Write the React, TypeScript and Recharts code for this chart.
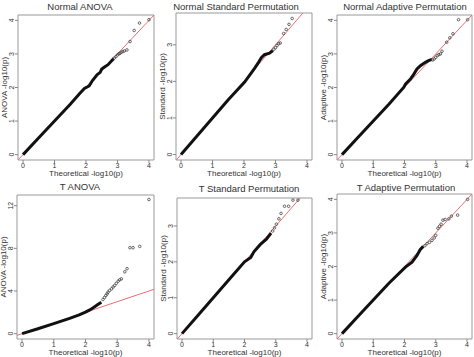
import {
  ComposedChart,
  Line,
  Scatter,
  XAxis,
  YAxis,
  ReferenceLine,
  ReferenceArea,
} from "recharts";

const normalAnovaCurve = [
  [0, 0], [0.5, 0.5], [1, 1], [1.5, 1.5], [1.8, 1.82], [1.95, 1.97], [2.05, 2.02],
  [2.1, 2.05], [2.2, 2.2], [2.35, 2.38], [2.45, 2.45], [2.5, 2.55], [2.6, 2.62],
  [2.7, 2.68], [2.8, 2.78], [2.88, 2.86],
];
const normalAnovaTail = [
  [2.9, 2.88], [2.95, 2.92], [3.0, 2.97], [3.04, 3.0], [3.08, 3.02], [3.12, 3.05],
  [3.17, 3.07], [3.22, 3.09], [3.3, 3.12], [3.4, 3.37], [3.53, 3.7], [3.7, 3.92],
  [4.0, 4.02],
];

const normalStdCurve = [
  [0, 0], [0.5, 0.5], [1, 1], [1.5, 1.5], [2.02, 1.98], [2.18, 2.17], [2.33, 2.35],
  [2.44, 2.49], [2.55, 2.65], [2.65, 2.73], [2.81, 2.77], [2.92, 2.84],
];
const normalStdTail = [
  [2.95, 2.88], [3.0, 2.92], [3.05, 2.98], [3.1, 3.03], [3.15, 3.05], [3.26, 3.31],
  [3.34, 3.42], [3.43, 3.56], [3.53, 3.72],
];

const normalAdaptCurve = [
  [0, 0], [0.5, 0.5], [1, 1], [1.5, 1.5], [1.98, 2.01], [2.03, 2.1], [2.19, 2.25],
  [2.3, 2.4], [2.4, 2.55], [2.51, 2.65], [2.67, 2.75], [2.77, 2.8], [2.88, 2.84],
];
const normalAdaptTail = [
  [2.9, 2.82], [2.95, 2.85], [3.0, 2.9], [3.05, 2.95], [3.1, 2.98], [3.15, 3.0],
  [3.2, 3.08], [3.35, 3.35], [3.45, 3.48], [3.55, 3.6], [3.73, 4.02], [4.02, 4.02],
];

const tAnovaCurve = [
  [0, 0], [0.5, 0.46], [1, 0.94], [1.5, 1.44], [1.8, 1.76], [2.0, 2.02], [2.15, 2.25],
  [2.3, 2.55], [2.4, 2.75], [2.5, 2.95],
];
const tAnovaTail = [
  [2.55, 3.2], [2.6, 3.4], [2.64, 3.57], [2.68, 3.72], [2.71, 3.89], [2.76, 4.05],
  [2.82, 4.2], [2.87, 4.38], [2.92, 4.52], [2.97, 4.72], [3.03, 4.92], [3.08, 5.05],
  [3.13, 5.14], [3.24, 5.8], [3.31, 6.09], [3.4, 8.06], [3.5, 8.06], [3.71, 8.18],
  [4.0, 12.58],
];

const tStdCurve = [
  [0, 0], [0.5, 0.5], [1, 1], [1.5, 1.5], [2, 2], [2.2, 2.12], [2.3, 2.28],
  [2.5, 2.48], [2.7, 2.63], [2.85, 2.8],
];
const tStdTail = [
  [2.9, 2.86], [2.96, 2.95], [3.02, 3.05], [3.1, 3.2], [3.17, 3.35], [3.28, 3.55],
  [3.41, 3.55], [3.55, 3.72], [3.71, 3.72],
];

const tAdaptCurve = [
  [0, 0], [0.5, 0.5], [1, 1], [1.5, 1.5], [2.03, 1.98], [2.24, 2.13], [2.4, 2.33],
  [2.5, 2.5], [2.6, 2.6],
];
const tAdaptTail = [
  [2.65, 2.62], [2.72, 2.68], [2.8, 2.72], [2.88, 2.78], [2.95, 2.85], [3.0, 2.93],
  [3.07, 3.14], [3.12, 3.2], [3.17, 3.26], [3.23, 3.38], [3.3, 3.4], [3.42, 3.42],
  [3.5, 3.5], [3.7, 3.53], [4.02, 4.0],
];

const xTicks = [0, 1, 2, 3, 4];
const yTicks3 = [0, 1, 2, 3];
const yTicks4 = [0, 1, 2, 3, 4];
const yTicks12 = [0, 2, 4, 6, 8, 10, 12];

const FONT = "'Liberation Sans', Arial, sans-serif";
const toPts = (rows: number[][]) => rows.map(([x, y]) => ({ x, y }));

const YTick = (props: any) => {
  const { x, y, payload } = props;
  return (
    <text
      x={x}
      y={y}
      transform={`rotate(-90, ${x}, ${y})`}
      textAnchor="middle"
      fontSize={7}
      fill="#333"
      fontFamily={FONT}
    >
      {payload.value}
    </text>
  );
};

const Dot = (props: any) => (
  <circle cx={props.cx} cy={props.cy} r={1.3} fill="none" stroke="#444" strokeWidth={0.8} />
);

interface PanelProps {
  left: number;
  top: number;
  width: number;
  height: number;
  frame: [number, number, number, number]; // left, top, right, bottom
  title: string;
  titleX: number;
  titleY: number;
  yLabel: string;
  curve: number[][];
  tail: number[][];
  yDomain: [number, number];
  yTicks: number[];
  xTickMargin: number;
  xLabelOffset: number;
}

function Panel(p: PanelProps) {
  const [fl, ft, fr, fb] = p.frame;
  const xDomain: [number, number] = [-0.16, 4.16];
  return (
    <>
      <div
        style={{
          position: "absolute",
          left: p.titleX,
          top: p.titleY,
          transform: "translate(-50%, -50%)",
          fontSize: 9.5,
          fontFamily: FONT,
          color: "#333",
          whiteSpace: "nowrap",
        }}
      >
        {p.title}
      </div>
      <div style={{ position: "absolute", left: p.left, top: p.top }}>
        <ComposedChart
          width={p.width}
          height={p.height}
          margin={{ top: ft - p.top, right: p.left + p.width - fr, bottom: 0, left: 0 }}
        >
          <XAxis
            type="number"
            dataKey="x"
            domain={xDomain}
            ticks={xTicks}
            allowDataOverflow
            height={p.top + p.height - fb}
            axisLine={false}
            tickLine={{ stroke: "#888" }}
            tickSize={3}
            tickMargin={p.xTickMargin}
            tick={{ fontSize: 7, fill: "#333", fontFamily: FONT }}
            label={{
              value: "Theoretical -log10(p)",
              position: "insideBottom",
              offset: p.xLabelOffset,
              fontSize: 8,
              fill: "#333",
              fontFamily: FONT,
            }}
          />
          <YAxis
            type="number"
            dataKey="y"
            domain={p.yDomain}
            ticks={p.yTicks}
            allowDataOverflow
            width={fl - p.left}
            axisLine={false}
            tickLine={{ stroke: "#888" }}
            tickSize={3}
            tickMargin={1}
            tick={<YTick />}
            label={{
              value: p.yLabel,
              angle: -90,
              position: "insideLeft",
              offset: fl - 14 - p.left,
              fontSize: 8,
              fill: "#333",
              fontFamily: FONT,
              style: { textAnchor: "middle" },
            }}
          />
          <ReferenceLine
            segment={[{ x: -1, y: -1 }, { x: 14, y: 14 }]}
            stroke="#e8706f"
            strokeWidth={1}
            ifOverflow="hidden"
          />
          <Line
            data={toPts(p.curve)}
            dataKey="y"
            type="linear"
            stroke="#111"
            strokeWidth={3}
            dot={false}
            isAnimationActive={false}
          />
          <Scatter data={toPts(p.tail)} shape={<Dot />} isAnimationActive={false} />
          <ReferenceArea
            x1={xDomain[0]}
            x2={xDomain[1]}
            y1={p.yDomain[0]}
            y2={p.yDomain[1]}
            fill="none"
            stroke="#999"
            strokeWidth={1}
            ifOverflow="visible"
          />
        </ComposedChart>
      </div>
    </>
  );
}

export default function App() {
  return (
    <div
      style={{
        position: "absolute",
        left: 0,
        top: 0,
        width: 474,
        height: 357,
        background: "#fff",
        overflow: "hidden",
      }}
    >
      <Panel left={0} top={0} width={158} height={180} frame={[18, 15, 154, 160]}
        title="Normal ANOVA" titleX={80} titleY={6} yLabel="ANOVA -log10(p)"
        curve={normalAnovaCurve} tail={normalAnovaTail} yDomain={[-0.16, 4.16]} yTicks={yTicks4}
        xTickMargin={0} xLabelOffset={4} />
      <Panel left={158} top={0} width={160} height={180} frame={[176, 13, 312, 160]}
        title="Normal Standard Permutation" titleX={236} titleY={6} yLabel="Standard -log10(p)"
        curve={normalStdCurve} tail={normalStdTail} yDomain={[-0.15, 3.87]} yTicks={yTicks3}
        xTickMargin={0} xLabelOffset={4} />
      <Panel left={318} top={0} width={156} height={180} frame={[337, 15, 472, 160]}
        title="Normal Adaptive Permutation" titleX={405} titleY={6} yLabel="Adaptive -log10(p)"
        curve={normalAdaptCurve} tail={normalAdaptTail} yDomain={[-0.16, 4.16]} yTicks={yTicks4}
        xTickMargin={0} xLabelOffset={4} />
      <Panel left={0} top={178} width={158} height={179} frame={[17, 195, 154, 339]}
        title="T ANOVA" titleX={80} titleY={186} yLabel="ANOVA -log10(p)"
        curve={tAnovaCurve} tail={tAnovaTail} yDomain={[-0.5, 13.0]} yTicks={yTicks12}
        xTickMargin={0} xLabelOffset={2} />
      <Panel left={158} top={178} width={160} height={179} frame={[177, 198, 312, 339]}
        title="T Standard Permutation" titleX={249} titleY={188} yLabel="Standard -log10(p)"
        curve={tStdCurve} tail={tStdTail} yDomain={[-0.15, 3.78]} yTicks={yTicks3}
        xTickMargin={0} xLabelOffset={2} />
      <Panel left={318} top={178} width={156} height={179} frame={[337, 194, 472, 339]}
        title="T Adaptive Permutation" titleX={406} titleY={187} yLabel="Adaptive -log10(p)"
        curve={tAdaptCurve} tail={tAdaptTail} yDomain={[-0.16, 4.16]} yTicks={yTicks4}
        xTickMargin={0} xLabelOffset={2} />
    </div>
  );
}
